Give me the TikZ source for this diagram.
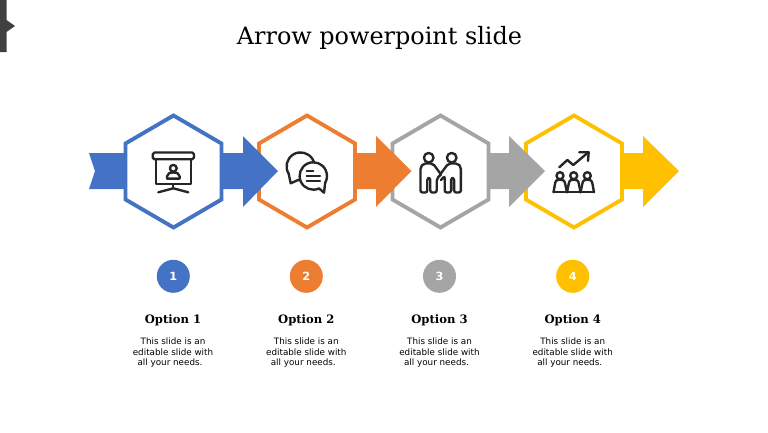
\documentclass[tikz,border=0pt]{standalone}
\usepackage{fontspec}
\newfontfamily\titlefont{DejaVu Serif}
\newfontfamily\bodyfont{DejaVu Sans}
\definecolor{optblue}{HTML}{4472C4}
\definecolor{optorange}{HTML}{ED7D31}
\definecolor{optgray}{HTML}{A5A5A5}
\definecolor{optgold}{HTML}{FFC000}
\definecolor{cornerdark}{HTML}{404040}
\definecolor{icondark}{HTML}{262626}
\tikzset{
    hexline/.style={line width=2.2pt, fill=white, line join=miter},
    iconline/.style={line width=1.35pt, draw=icondark, line join=round, line cap=round},
    numdot/.style={circle, minimum size=18.8pt, inner sep=0pt, text=white, font=\bodyfont\bfseries\fontsize{6.4}{8}\selectfont},
    opthead/.style={font=\titlefont\bfseries\fontsize{6.6}{8}\selectfont},
    optbody/.style={align=center, inner sep=0pt, font=\bodyfont\fontsize{5}{6}\selectfont}
}
\begin{document}
\begin{tikzpicture}[x=0.02cm, y=-0.02cm]
        \useasboundingbox (0, 0) rectangle (768, 433);
        % corner mark
        \fill[cornerdark] (0, 0) -- (6.5, 0) -- (6.5, 20) -- (15, 26) -- (6.5, 32) -- (6.5, 52) -- (0, 52) -- cycle;
        % title
        \node[font=\titlefont\fontsize{13.6}{16}\selectfont] (title) at (379.5, 38) {Arrow powerpoint slide};
        % hexagons
        \draw[hexline, draw=optblue] (173.5, 115.5) -- ++(48, 28) -- ++(0, 56) -- ++(-48, 28) -- ++(-48, -28) -- ++(0, -56) -- cycle;
        \draw[hexline, draw=optorange] (307, 115.5) -- ++(48, 28) -- ++(0, 56) -- ++(-48, 28) -- ++(-48, -28) -- ++(0, -56) -- cycle;
        \draw[hexline, draw=optgray] (440.5, 115.5) -- ++(48, 28) -- ++(0, 56) -- ++(-48, 28) -- ++(-48, -28) -- ++(0, -56) -- cycle;
        \draw[hexline, draw=optgold] (574, 115.5) -- ++(48, 28) -- ++(0, 56) -- ++(-48, 28) -- ++(-48, -28) -- ++(0, -56) -- cycle;
        % arrows
        \fill[optblue] (89, 153) -- (124, 153) -- (124, 189) -- (89, 189) -- (95, 171) -- cycle;
        \fill[optblue] (222.5, 153) -- (243, 153) -- (243, 136) -- (278, 171) -- (243, 207) -- (243, 189) -- (222.5, 189) -- cycle;
        \fill[optorange] (356, 153) -- (376, 153) -- (376, 136) -- (411.5, 171) -- (376, 207) -- (376, 189) -- (356, 189) -- cycle;
        \fill[optgray] (489.5, 153) -- (509, 153) -- (509, 136) -- (545, 171) -- (509, 207) -- (509, 189) -- (489.5, 189) -- cycle;
        \fill[optgold] (623, 153) -- (643, 153) -- (643, 136) -- (679, 171) -- (643, 207) -- (643, 189) -- (623, 189) -- cycle;
        % icon 1, screen
        \draw[iconline, rounded corners=1pt] (152.7, 152.5) rectangle (194, 159.3);
        \draw[iconline] (156, 159.3) -- (156, 184.3) -- (190.7, 184.3) -- (190.7, 159.3);
        \draw[iconline] (173.3, 184.3) -- (173.3, 188.3);
        \draw[iconline] (158.3, 192.3) -- (173.3, 188.3) -- (188.3, 192.3);
        \draw[iconline] (173.3, 168.3) circle (3.4);
        \draw[iconline] (167, 178.6) -- (167, 176.5) .. controls (167, 173.5) and (170, 172.5) .. (173.3, 172.5) .. controls (176.6, 172.5) and (179.7, 173.5) .. (179.7, 176.5) -- (179.7, 178.6) -- cycle;
        % icon 2, bubbles
        \draw[iconline] (288.7, 173.8) arc (148:461:14) -- (290.7, 183.3) -- cycle;
        \draw[iconline, fill=white] (319.1, 188.4) arc (65:390:13.7) -- (324, 192.7) -- cycle;
        \draw[iconline] (306.7, 170.7) -- (313.3, 170.7);
        \draw[iconline] (306.7, 176) -- (320, 176);
        \draw[iconline] (306.7, 181) -- (320, 181);
        % icon 3, two people
        \draw[iconline] (428.7, 157.7) circle (4.8);
        \draw[iconline] (451.7, 157.7) circle (4.8);
        \draw[iconline, rounded corners=1.2pt] (441, 174.5) -- (433, 163.5) -- (423.5, 163.5) -- (420.5, 167) -- (420.5, 192.5) -- (427.3, 192.5) -- (427.3, 178) -- (430.3, 178) -- (430.3, 192.5) -- (436.7, 192.5) -- (436.7, 178.5) -- (441, 174.5);
        \draw[iconline, rounded corners=1.2pt] (440, 174.5) -- (448.4, 163.5) -- (457.9, 163.5) -- (460.9, 167) -- (460.9, 192.5) -- (454.1, 192.5) -- (454.1, 178) -- (451.1, 178) -- (451.1, 192.5) -- (444.7, 192.5) -- (444.7, 176) -- (441, 180);
        % icon 4, team and trend
        \draw[iconline] (559.3, 167.3) -- (567.3, 160) -- (573.3, 165) -- (587.5, 153);
        \draw[iconline] (579.3, 152.3) -- (588.7, 152.3) -- (588, 161);
        \draw[iconline] (560, 175.7) circle (3.5);
        \draw[iconline] (573.7, 175.7) circle (3.5);
        \draw[iconline] (587.3, 175.7) circle (3.5);
        \draw[iconline] (553.5, 192.3) -- (594, 192.3);
        \draw[iconline] (553.5, 192.3) -- (555, 184) .. controls (555.5, 180.5) and (557, 179.5) .. (560, 179.5) .. controls (563, 179.5) and (564.7, 180.5) .. (565.2, 184) -- (567, 192.3);
        \draw[iconline] (567, 192.3) -- (568.7, 184) .. controls (569.2, 180.5) and (570.7, 179.5) .. (573.7, 179.5) .. controls (576.7, 179.5) and (578.4, 180.5) .. (578.9, 184) -- (580.5, 192.3);
        \draw[iconline] (580.5, 192.3) -- (582.3, 184) .. controls (582.8, 180.5) and (584.3, 179.5) .. (587.3, 179.5) .. controls (590.3, 179.5) and (592, 180.5) .. (592.5, 184) -- (594, 192.3);
        % numbers
        \node[numdot, fill=optblue] (num1) at (173.3, 276.3) {1};
        \node[numdot, fill=optorange] (num2) at (306.3, 276.3) {2};
        \node[numdot, fill=optgray] (num3) at (439.5, 276.3) {3};
        \node[numdot, fill=optgold] (num4) at (572.7, 276.3) {4};
        % headings
        \node[opthead] (head1) at (173, 320.7) {Option 1};
        \node[opthead] (head2) at (306.3, 320.7) {Option 2};
        \node[opthead] (head3) at (439.5, 320.7) {Option 3};
        \node[opthead] (head4) at (572.7, 320.7) {Option 4};
        % body text
        \node[optbody] (body1) at (173, 352.8) {This slide is an\\editable slide with\\all your needs.\hspace*{3.4pt}};
        \node[optbody] (body2) at (306.3, 352.8) {This slide is an\\editable slide with\\all your needs.\hspace*{3.4pt}};
        \node[optbody] (body3) at (439.5, 352.8) {This slide is an\\editable slide with\\all your needs.\hspace*{3.4pt}};
        \node[optbody] (body4) at (572.7, 352.8) {This slide is an\\editable slide with\\all your needs.\hspace*{3.4pt}};
    \end{tikzpicture}
\end{document}
